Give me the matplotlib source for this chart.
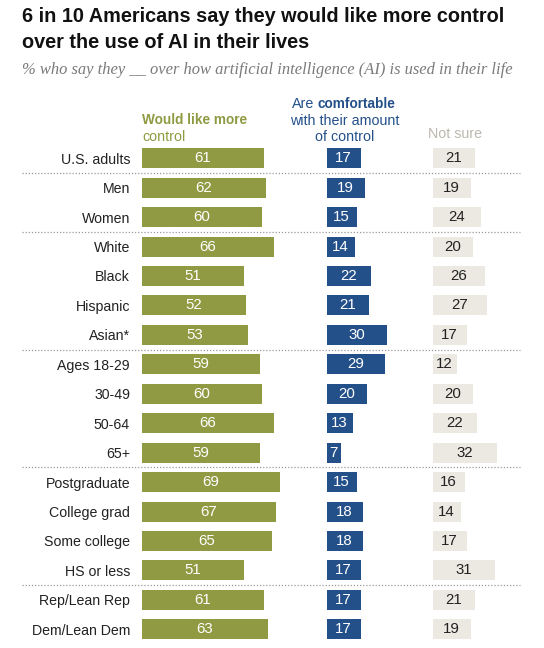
import numpy as np
import matplotlib
matplotlib.use("Agg")
from matplotlib import pyplot as plt

# data
groups = ["U.S. adults", "Men", "Women", "White", "Black", "Hispanic", "Asian*",
          "Ages 18-29", "30-49", "50-64", "65+", "Postgraduate", "College grad",
          "Some college", "HS or less", "Rep/Lean Rep", "Dem/Lean Dem"]
more_control = [61, 62, 60, 66, 51, 52, 53, 59, 60, 66, 59, 69, 67, 65, 51, 61, 63]
comfortable = [17, 19, 15, 14, 22, 21, 30, 29, 20, 13, 7, 15, 18, 18, 17, 17, 17]
not_sure = [21, 19, 24, 20, 26, 27, 17, 12, 20, 22, 32, 16, 14, 17, 31, 21, 19]
separators_after = [0, 2, 6, 10, 14]

GREEN = "#8f9a42"
BLUE = "#24508a"
GRAY = "#ece9e2"
FONT = "Liberation Sans"

W, H = 544, 648
fig = plt.figure(figsize=(W / 100, H / 100), dpi=100)
fig.patch.set_facecolor("white")

n = len(groups)
y = np.arange(n)
# vertical extent of the rows (pixels from top)
top_px, bot_px = 143.5, 644.0


def fax(x0, width):
    return fig.add_axes([x0 / W, 1 - bot_px / H, width / W, (bot_px - top_px) / H])


# background axes for the dotted separators
axb = fax(0, W)
axb.set_xlim(0, W)
axb.set_ylim(n - 0.5, -0.5)
axb.axis("off")
for s in separators_after:
    axb.plot([22, 520], [s + 0.5, s + 0.5], color="#9a9a9a", lw=0.9,
             linestyle=(0, (1, 1.5)))

panels = [
    (142, 180, more_control, GREEN, "white"),
    (326.5, 100, comfortable, BLUE, "white"),
    (432.5, 100, not_sure, GRAY, "#222222"),
]
axes = []
for x0, width, vals, col, tcol in panels:
    ax = fax(x0, width)
    ax.set_xlim(0, width / 2.0)
    ax.set_ylim(n - 0.5, -0.5)
    ax.barh(y, vals, height=0.68, color=col, edgecolor="none")
    for yi, v in zip(y, vals):
        ax.text(v / 2, yi, str(v), ha="center", va="center", color=tcol,
                fontsize=10.8, family=FONT)
    for sp in ax.spines.values():
        sp.set_visible(False)
    ax.set_xticks([])
    ax.set_yticks([])
    ax.patch.set_alpha(0)
    axes.append(ax)

axes[0].set_yticks(y, groups)
axes[0].tick_params(axis="y", length=0, pad=8.6, labelsize=10.2)
for lab in axes[0].get_yticklabels():
    lab.set_family(FONT)
    lab.set_color("#222222")

# title and subtitle
fig.text(22 / W, 1 - 16 / H, "6 in 10 Americans say they would like more control",
         fontsize=14.3, fontweight="bold", family=FONT, va="center", color="#111111")
fig.text(22 / W, 1 - 42 / H, "over the use of AI in their lives",
         fontsize=14.3, fontweight="bold", family=FONT, va="center", color="#111111")
fig.text(22 / W, 1 - 70 / H,
         "% who say they __ over how artificial intelligence (AI) is used in their life",
         fontsize=11.9, style="italic", family="Liberation Serif", va="center",
         color="#7a7a7a")

# column headers
fig.text(142 / W, 1 - 120 / H, "Would like more", fontsize=9.8, fontweight="bold",
         family=FONT, color=GREEN, va="center")
fig.text(142 / W, 1 - 137 / H, "control", fontsize=10.3, family=FONT, color=GREEN,
         va="center")
fig.text(314 / W, 1 - 104 / H, "Are", fontsize=10.3, family=FONT, color=BLUE,
         va="center", ha="right")
fig.text(317 / W, 1 - 104 / H, "comfortable", fontsize=9.8, fontweight="bold",
         family=FONT, color=BLUE, va="center", ha="left")
fig.text(345 / W, 1 - 121 / H, "with their amount", fontsize=10.3, family=FONT,
         color=BLUE, va="center", ha="center")
fig.text(345 / W, 1 - 137 / H, "of control", fontsize=10.3, family=FONT,
         color=BLUE, va="center", ha="center")
fig.text(428 / W, 1 - 134 / H, "Not sure", fontsize=10.3, family=FONT,
         color="#bcb8ae", va="center")

fig.savefig("out.png", dpi=100, facecolor="white")
